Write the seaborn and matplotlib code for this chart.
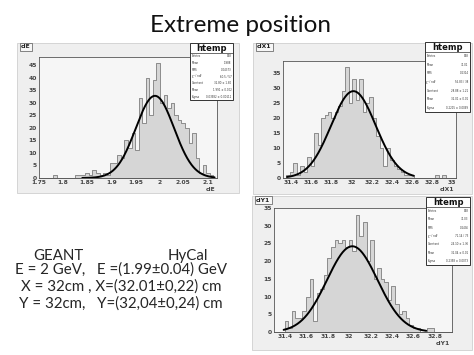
import numpy as np
import pandas as pd
import matplotlib
matplotlib.use("Agg")
import matplotlib.pyplot as plt
from matplotlib.patches import Rectangle
from matplotlib.ticker import MultipleLocator
import seaborn as sns

sns.set_style("white")
plt.rcParams["font.family"] = ["DejaVu Sans"]

# ---- data ----
# cIE histogram (50 bins, 1.75 .. 2.12)
e_range = [1.75, 2.12]
e_counts = [0, 0, 0, 0, 1, 0, 0, 0, 0, 0,
            1, 1, 1, 2, 1, 3, 2, 1, 2, 1,
            6, 6, 9, 8, 15, 12, 18, 11, 32, 22,
            40, 25, 39, 46, 30, 33, 28, 30, 25, 23,
            22, 20, 14, 18, 8, 2, 5, 2, 1, 0]
e_fit = [32.80, 1.991, 0.0398]   # constant, mean, sigma
e_fit_range = [1.84, 2.115]
e_stats = [("Entries", "548"), ("Mean", "1.988"), ("RMS", "0.04373"),
           ("χ² / ndf", "60.5 / 57"), ("Constant", "32.80 ± 1.80"),
           ("Mean", "1.991 ± 0.002"), ("Sigma", "0.03982 ± 0.00111")]
e_ticks = [1.75, 1.8, 1.85, 1.9, 1.95, 2.0, 2.05, 2.1]
e_ticklabels = ["1.75", "1.8", "1.85", "1.9", "1.95", "2", "2.05", "2.1"]

# cIX1 histogram (50 bins, 31.32 .. 33.04)
x_range = [31.32, 33.04]
x_counts = [0, 1, 2, 5, 1, 4, 2, 7, 4, 15,
            11, 20, 21, 22, 20, 22, 24, 29, 37, 25,
            33, 26, 33, 22, 25, 27, 20, 14, 10, 4,
            10, 6, 4, 3, 2, 1, 1, 1, 0, 0,
            0, 0, 0, 0, 1, 0, 1, 0, 0, 0]
x_fit = [28.88, 32.02, 0.2215]
x_fit_range = [31.36, 32.62]
x_stats = [("Entries", "548"), ("Mean", "32.01"), ("RMS", "0.2314"),
           ("χ² / ndf", "56.83 / 38"), ("Constant", "28.88 ± 1.21"),
           ("Mean", "32.01 ± 0.01"), ("Sigma", "0.2215 ± 0.0069")]
x_ticks = [31.4, 31.6, 31.8, 32.0, 32.2, 32.4, 32.6, 32.8, 33.0]
x_ticklabels = ["31.4", "31.6", "31.8", "32", "32.2", "32.4", "32.6", "32.8", "33"]

# cIY1 histogram (50 bins, 31.30 .. 32.96)
y_range = [31.30, 32.96]
y_counts = [0, 0, 0, 3, 1, 6, 4, 4, 6, 10,
            15, 3, 11, 12, 16, 21, 24, 26, 25, 26,
            24, 26, 23, 33, 27, 31, 20, 26, 15, 18,
            15, 14, 9, 13, 8, 5, 6, 4, 2, 1,
            1, 0, 0, 1, 1, 0, 0, 0, 0, 0]
y_fit = [24.20, 32.03, 0.2358]
y_fit_range = [31.39, 32.72]
y_stats = [("Entries", "548"), ("Mean", "32.03"), ("RMS", "0.2436"),
           ("χ² / ndf", "71.14 / 73"), ("Constant", "24.10 ± 1.36"),
           ("Mean", "32.04 ± 0.01"), ("Sigma", "0.2358 ± 0.0073")]
y_ticks = [31.4, 31.6, 31.8, 32.0, 32.2, 32.4, 32.6, 32.8]
y_ticklabels = ["31.4", "31.6", "31.8", "32", "32.2", "32.4", "32.6", "32.8"]

W, H = 474, 355
fig = plt.figure(figsize=(W / 100, H / 100), dpi=100)
fig.patch.set_facecolor("white")


def px_rect(x0, y0, x1, y1):
    # pixel box (top-left origin) -> figure fraction [l, b, w, h]
    return [x0 / W, 1 - y1 / H, (x1 - x0) / W, (y1 - y0) / H]


def canvas(x0, y0, x1, y1, name):
    l, b, w, h = px_rect(x0, y0, x1, y1)
    fig.patches.append(Rectangle((l, b), w, h, transform=fig.transFigure,
                                 facecolor="#efefef", edgecolor="#cfcfcf",
                                 lw=0.6, zorder=-10))
    # small name tag in the top-left corner
    fig.text((x0 + 4) / W, 1 - (y0 + 4) / H, name, fontsize=4.3,
             fontweight="bold", color="#222222", va="center", ha="left",
             bbox=dict(boxstyle="square,pad=0.25", fc="#f7f7f7", ec="#555555", lw=0.5),
             zorder=5)


def stats_box(x0, y0, x1, y1, rows):
    l, b, w, h = px_rect(x0, y0, x1, y1)
    fig.patches.append(Rectangle((l, b), w, h, transform=fig.transFigure,
                                 facecolor="white", edgecolor="#333333",
                                 lw=0.7, zorder=6))
    head = 10
    fig.text((x0 + x1) / 2 / W, 1 - (y0 + head / 2 + 0.5) / H, "htemp",
             fontsize=6, fontweight="bold", ha="center", va="center",
             color="#111111", zorder=7)
    hl = 1 - (y0 + head) / H
    fig.lines.append(plt.Line2D([l, l + w], [hl, hl], transform=fig.transFigure,
                                color="#333333", lw=0.5, zorder=7))
    step = (y1 - y0 - head) / len(rows)
    for i, (k, v) in enumerate(rows):
        yy = 1 - (y0 + head + step * (i + 0.5)) / H
        fig.text((x0 + 1.5) / W, yy, k, fontsize=1.9, ha="left", va="center",
                 color="#333333", zorder=7)
        fig.text((x1 - 1.5) / W, yy, v, fontsize=1.9, ha="right", va="center",
                 color="#333333", zorder=7)


def panel(box, counts, rng, fit, fit_rng, ticks, ticklabels, ymax, xlabel,
          ymajor=5, xminor=None):
    ax = fig.add_axes(px_rect(*box))
    edges = np.linspace(rng[0], rng[1], len(counts) + 1)
    centers = (edges[:-1] + edges[1:]) / 2
    df = pd.DataFrame({"x": centers, "n": counts})
    sns.histplot(data=df, x="x", weights="n", bins=edges.tolist(), element="step",
                 fill=True, color="#d6d6d6", alpha=1.0, edgecolor="#8c8c8c",
                 linewidth=0.7, ax=ax)
    xs = np.linspace(fit_rng[0], fit_rng[1], 300)
    c, m, s = fit
    ys = c * np.exp(-0.5 * ((xs - m) / s) ** 2)
    sns.lineplot(x=xs, y=ys, color="black", lw=1.4, ax=ax)
    ax.set_xlim(rng)
    ax.set_ylim(0, ymax)
    ax.set_facecolor("#f6f6f6")
    for sp in ax.spines.values():
        sp.set_color("#555555")
        sp.set_linewidth(0.6)
    ax.set_xticks(ticks)
    ax.set_xticklabels(ticklabels)
    ax.yaxis.set_major_locator(MultipleLocator(ymajor))
    ax.yaxis.set_minor_locator(MultipleLocator(1))
    if xminor:
        ax.xaxis.set_minor_locator(MultipleLocator(xminor))
    ax.tick_params(which="both", direction="in", labelsize=4.3, pad=1.5,
                   colors="#444444", width=0.5)
    ax.tick_params(which="major", length=4)
    ax.tick_params(which="minor", length=2)
    for t in ax.get_xticklabels() + ax.get_yticklabels():
        t.set_fontweight("bold")
    ax.set_xlabel("")
    ax.set_ylabel("")
    ax.text(0.99, -0.075, xlabel, transform=ax.transAxes, ha="right", va="top",
            fontsize=4.3, fontweight="bold", color="#444444")
    return ax


# left: cIE
canvas(17, 43, 239, 193, "cIE")
panel((39, 57, 217, 178), e_counts, e_range, e_fit, e_fit_range,
      e_ticks, e_ticklabels, 48.3, "cIE", xminor=0.01)
stats_box(190, 43, 233, 100, e_stats)

# top right: cIX1
canvas(253, 43, 472, 194, "cIX1")
panel((283, 61, 456, 178), x_counts, x_range, x_fit, x_fit_range,
      x_ticks, x_ticklabels, 38.9, "cIX1", xminor=0.04)
stats_box(425, 42, 470, 112, x_stats)

# bottom right: cIY1
canvas(252, 196, 472, 350, "cIY1")
panel((274, 208, 452, 332), y_counts, y_range, y_fit, y_fit_range,
      y_ticks, y_ticklabels, 35.0, "cIY1", xminor=0.04)
stats_box(426, 197, 470, 265, y_stats)

# slide text
slide_font = ["Lato", "DejaVu Sans"]
fig.text(240 / W, 1 - 26 / H, "Extreme position", fontsize=17.5,
         family=slide_font, ha="center", va="center", color="#111111")
fig.text(58 / W, 1 - 256 / H, "GEANT", fontsize=10.8, family=slide_font,
         ha="center", va="center")
fig.text(188 / W, 1 - 256 / H, "HyCal", fontsize=10.8, family=slide_font,
         ha="center", va="center")
lines = ["E = 2 GeV,   E =(1.99±0.04) GeV",
         "X = 32cm , X=(32.01±0,22) cm",
         "Y = 32cm,   Y=(32,04±0,24) cm"]
for i, ln in enumerate(lines):
    fig.text(121 / W, 1 - (270 + 17 * i) / H, ln, fontsize=10.8,
             family=slide_font, ha="center", va="center")

fig.savefig("out.png", dpi=100)
